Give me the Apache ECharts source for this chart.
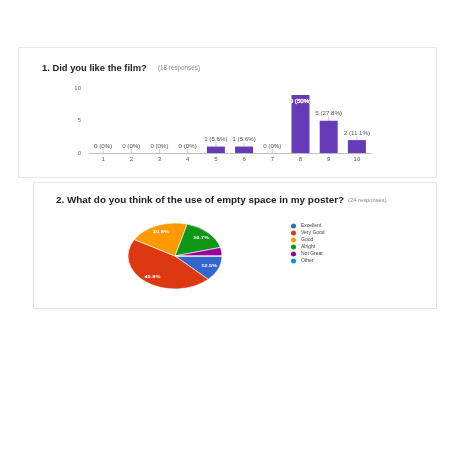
<!DOCTYPE html>
<html>
<head>
<meta charset="utf-8">
<script src="https://cdn.jsdelivr.net/npm/echarts@6/dist/echarts.min.js"></script>
<style>
html,body{margin:0;padding:0;background:#fff;}
#main{position:absolute;left:0;top:0;width:452px;height:452px;}
#pie{position:absolute;left:135px;top:216px;width:80px;height:80px;transform:scaleX(1.424);transform-origin:50% 50%;}
</style>
</head>
<body>
<div id="main"></div>
<div id="pie"></div>
<script>
// ---- Data ----
const barCategories = ['1','2','3','4','5','6','7','8','9','10'];
const barValues = [0,0,0,0,1,1,0,9,5,2];
const barTotal = 18;
const yTicks = [0,5,10];
const pieNames = ['Excellent','Very Good','Good','Alright','Not Great','Other'];
const pieValues = [3,11,5,4,1,0];
const pieColors = ['#3366CC','#DC3912','#FF9900','#109618','#990099','#0099C6'];
const title1 = '1. Did you like the film?';
const sub1 = '(18 responses)';
const title2 = '2. What do you think of the use of empty space in my poster?';
const sub2 = '(24 responses)';

const FONT = 'Arial, "Liberation Sans", sans-serif';
const maxIdx = barValues.indexOf(Math.max(...barValues));

function pctText(v){ return Number((v / barTotal * 100).toFixed(1)) + '%'; }

const barData = barValues.map((v, i) => {
  const d = { value: v };
  if (i === maxIdx) {
    d.label = { position: 'top', distance: -9, color: '#fff', overflow: 'none', textBorderColor: '#cfc6e6', textBorderWidth: 0.6 };
    d.labelLine = { show: false };
  }
  return d;
});

const pieData = pieNames.map((n, i) => ({ name: n, value: pieValues[i], itemStyle: { color: pieColors[i] } }));

const main = echarts.init(document.getElementById('main'), null, { renderer: 'canvas' });
main.setOption({
  animation: false,
  backgroundColor: '#fff',
  textStyle: { fontFamily: FONT },
  graphic: [
    { type: 'rect', shape: { x: 18.5, y: 47.5, width: 418, height: 130 }, style: { fill: '#fff', stroke: '#e6e6e6', lineWidth: 1 }, z: -10 },
    { type: 'rect', shape: { x: 33.5, y: 182.5, width: 403, height: 126 }, style: { fill: '#fff', stroke: '#e4e4e4', lineWidth: 1 }, z: -10 },
    { type: 'text', left: 42, top: 63.5, style: { text: title1, font: 'bold 9.4px ' + FONT, fill: '#202124' } },
    { type: 'text', left: 158, top: 65.5, style: { text: sub1, font: '6.3px ' + FONT, fill: '#888' } },
    { type: 'text', left: 56, top: 195, style: { text: title2, font: 'bold 9.9px ' + FONT, fill: '#202124' } },
    { type: 'text', left: 348, top: 197.5, style: { text: sub2, font: '5.8px ' + FONT, fill: '#888' } }
  ],
  legend: {
    orient: 'vertical',
    left: 286,
    top: 218.5,
    itemWidth: 5,
    itemHeight: 5,
    itemGap: 2,
    icon: 'circle',
    data: pieNames,
    textStyle: { fontSize: 5, color: '#444', fontFamily: FONT, lineHeight: 5 }
  },
  grid: { left: 89, top: 88.5, width: 282, height: 64.5, containLabel: false },
  xAxis: {
    type: 'category',
    data: barCategories,
    axisLine: { lineStyle: { color: '#bdbdbd', width: 1 } },
    axisTick: { show: false },
    axisLabel: { fontSize: 6, color: '#555', margin: 3, fontFamily: FONT }
  },
  yAxis: {
    type: 'value',
    min: 0, max: 10, interval: 5,
    axisLine: { show: false },
    axisTick: { show: false },
    splitLine: { show: false },
    axisLabel: { fontSize: 6, color: '#666', margin: 8, fontFamily: FONT,
      formatter: v => yTicks.indexOf(v) >= 0 ? String(v) : '' }
  },
  series: [
    {
      type: 'bar',
      data: barData,
      barWidth: 18,
      itemStyle: { color: '#673AB7' },
      label: {
        show: true, position: 'top', distance: 0,
        fontSize: 6.2, color: '#555', fontFamily: FONT,
        formatter: p => p.value + ' (' + pctText(p.value) + ')'
      },
      labelLayout: p => (p.dataIndex === maxIdx ? {} : { dy: -4 }),
      labelLine: { show: true, lineStyle: { color: '#aaa', width: 0.6 } }
    },
    {
      // legend provider (the visible pie is drawn in the #pie chart)
      type: 'pie',
      center: [-300, -300],
      radius: 5,
      silent: true,
      label: { show: false },
      data: pieData
    }
  ]
});

const pie = echarts.init(document.getElementById('pie'), null, { renderer: 'svg' });
pie.setOption({
  animation: false,
  textStyle: { fontFamily: FONT },
  series: [
    {
      type: 'pie',
      center: ['50%', '50%'],
      radius: [0, 33],
      startAngle: 0,
      clockwise: true,
      silent: true,
      label: { show: false },
      labelLine: { show: false },
      itemStyle: { borderColor: '#fff', borderWidth: 0.5 },
      data: pieData
    },
    {
      type: 'pie',
      center: ['50%', '50%'],
      radius: [13, 33],
      startAngle: 0,
      clockwise: true,
      silent: true,
      itemStyle: { color: 'rgba(0,0,0,0)' },
      label: {
        show: true, position: 'inside',
        fontSize: 4, fontWeight: 'bold', color: '#fff', fontFamily: FONT,
        formatter: p => p.percent < 5 ? '' : p.percent.toFixed(1) + '%'
      },
      labelLine: { show: false },
      data: pieNames.map((n, i) => ({ name: n, value: pieValues[i] }))
    }
  ]
});
</script>
</body>
</html>
